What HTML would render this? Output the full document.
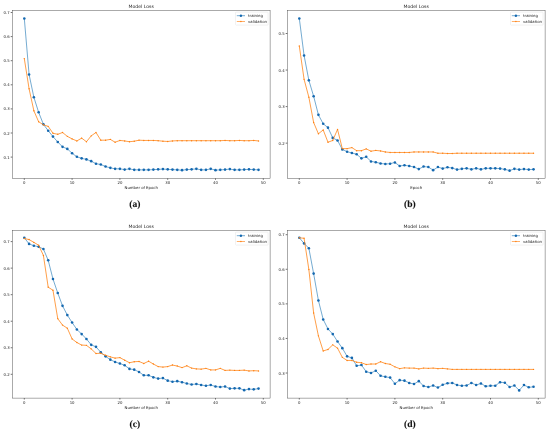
<!DOCTYPE html>
<html><head><meta charset="utf-8"><title>Model Loss</title>
<style>
html,body{margin:0;padding:0;background:#fff;}
body{width:550px;height:430px;overflow:hidden;}
.cap{font-family:"Liberation Serif","DejaVu Serif",serif;font-weight:bold;font-size:9.5px;fill:#111;stroke:#111 !important;stroke-width:0.12px !important;}
svg text{stroke:none;text-rendering:geometricPrecision;}
svg{display:block;font-family:"DejaVu Sans","Liberation Sans",sans-serif;}
</style></head><body>
<svg width="550" height="430" viewBox="0 0 550 430">
<rect width="550" height="430" fill="#fff"/>
<rect x="12.30" y="10.50" width="257.80" height="167.90" fill="#fff" stroke="#444" stroke-width="0.45"/>
<text x="141.20" y="8.00" font-size="4.6" text-anchor="middle" fill="#1a1a1a">Model Loss</text>
<line x1="24.30" y1="178.40" x2="24.30" y2="179.80" stroke="#333" stroke-width="0.7"/>
<text x="24.30" y="183.90" font-size="3.85" text-anchor="middle" fill="#1a1a1a">0</text>
<line x1="72.10" y1="178.40" x2="72.10" y2="179.80" stroke="#333" stroke-width="0.7"/>
<text x="72.10" y="183.90" font-size="3.85" text-anchor="middle" fill="#1a1a1a">10</text>
<line x1="119.90" y1="178.40" x2="119.90" y2="179.80" stroke="#333" stroke-width="0.7"/>
<text x="119.90" y="183.90" font-size="3.85" text-anchor="middle" fill="#1a1a1a">20</text>
<line x1="167.70" y1="178.40" x2="167.70" y2="179.80" stroke="#333" stroke-width="0.7"/>
<text x="167.70" y="183.90" font-size="3.85" text-anchor="middle" fill="#1a1a1a">30</text>
<line x1="215.50" y1="178.40" x2="215.50" y2="179.80" stroke="#333" stroke-width="0.7"/>
<text x="215.50" y="183.90" font-size="3.85" text-anchor="middle" fill="#1a1a1a">40</text>
<line x1="263.30" y1="178.40" x2="263.30" y2="179.80" stroke="#333" stroke-width="0.7"/>
<text x="263.30" y="183.90" font-size="3.85" text-anchor="middle" fill="#1a1a1a">50</text>
<line x1="10.70" y1="157.10" x2="12.30" y2="157.10" stroke="#333" stroke-width="0.7"/>
<text x="9.70" y="158.60" font-size="3.85" text-anchor="end" fill="#1a1a1a">0.1</text>
<line x1="10.70" y1="133.00" x2="12.30" y2="133.00" stroke="#333" stroke-width="0.7"/>
<text x="9.70" y="134.50" font-size="3.85" text-anchor="end" fill="#1a1a1a">0.2</text>
<line x1="10.70" y1="108.90" x2="12.30" y2="108.90" stroke="#333" stroke-width="0.7"/>
<text x="9.70" y="110.40" font-size="3.85" text-anchor="end" fill="#1a1a1a">0.3</text>
<line x1="10.70" y1="84.80" x2="12.30" y2="84.80" stroke="#333" stroke-width="0.7"/>
<text x="9.70" y="86.30" font-size="3.85" text-anchor="end" fill="#1a1a1a">0.4</text>
<line x1="10.70" y1="60.70" x2="12.30" y2="60.70" stroke="#333" stroke-width="0.7"/>
<text x="9.70" y="62.20" font-size="3.85" text-anchor="end" fill="#1a1a1a">0.5</text>
<line x1="10.70" y1="36.60" x2="12.30" y2="36.60" stroke="#333" stroke-width="0.7"/>
<text x="9.70" y="38.10" font-size="3.85" text-anchor="end" fill="#1a1a1a">0.6</text>
<line x1="10.70" y1="12.50" x2="12.30" y2="12.50" stroke="#333" stroke-width="0.7"/>
<text x="9.70" y="14.00" font-size="3.85" text-anchor="end" fill="#1a1a1a">0.7</text>
<text x="141.20" y="189.00" font-size="3.85" text-anchor="middle" fill="#1a1a1a">Number of Epoch</text>
<polyline points="24.30,18.43 29.08,74.48 33.86,97.26 38.64,112.29 43.42,124.32 48.20,130.71 52.98,136.60 57.76,141.98 62.54,146.84 67.32,148.89 72.10,153.24 76.88,156.82 81.66,158.36 86.44,159.38 91.22,161.17 96.00,163.73 100.78,164.50 105.56,166.55 110.34,167.83 115.12,168.85 119.90,168.85 124.68,169.62 129.46,168.85 134.24,169.87 139.02,169.87 143.80,169.87 148.58,169.87 153.36,169.62 158.14,169.36 162.92,169.11 167.70,169.36 172.48,169.62 177.26,169.87 182.04,170.13 186.82,169.62 191.60,169.36 196.38,168.85 201.16,169.87 205.94,169.87 210.72,168.85 215.50,170.13 220.28,169.87 225.06,169.62 229.84,169.11 234.62,169.87 239.40,169.87 244.18,169.62 248.96,169.36 253.74,169.62 258.52,169.87" fill="none" stroke="#1f77b4" stroke-width="0.62" stroke-linejoin="round"/>
<circle cx="24.30" cy="18.43" r="1.3" fill="#1468b0"/>
<circle cx="29.08" cy="74.48" r="1.3" fill="#1468b0"/>
<circle cx="33.86" cy="97.26" r="1.3" fill="#1468b0"/>
<circle cx="38.64" cy="112.29" r="1.3" fill="#1468b0"/>
<circle cx="43.42" cy="124.32" r="1.3" fill="#1468b0"/>
<circle cx="48.20" cy="130.71" r="1.3" fill="#1468b0"/>
<circle cx="52.98" cy="136.60" r="1.3" fill="#1468b0"/>
<circle cx="57.76" cy="141.98" r="1.3" fill="#1468b0"/>
<circle cx="62.54" cy="146.84" r="1.3" fill="#1468b0"/>
<circle cx="67.32" cy="148.89" r="1.3" fill="#1468b0"/>
<circle cx="72.10" cy="153.24" r="1.3" fill="#1468b0"/>
<circle cx="76.88" cy="156.82" r="1.3" fill="#1468b0"/>
<circle cx="81.66" cy="158.36" r="1.3" fill="#1468b0"/>
<circle cx="86.44" cy="159.38" r="1.3" fill="#1468b0"/>
<circle cx="91.22" cy="161.17" r="1.3" fill="#1468b0"/>
<circle cx="96.00" cy="163.73" r="1.3" fill="#1468b0"/>
<circle cx="100.78" cy="164.50" r="1.3" fill="#1468b0"/>
<circle cx="105.56" cy="166.55" r="1.3" fill="#1468b0"/>
<circle cx="110.34" cy="167.83" r="1.3" fill="#1468b0"/>
<circle cx="115.12" cy="168.85" r="1.3" fill="#1468b0"/>
<circle cx="119.90" cy="168.85" r="1.3" fill="#1468b0"/>
<circle cx="124.68" cy="169.62" r="1.3" fill="#1468b0"/>
<circle cx="129.46" cy="168.85" r="1.3" fill="#1468b0"/>
<circle cx="134.24" cy="169.87" r="1.3" fill="#1468b0"/>
<circle cx="139.02" cy="169.87" r="1.3" fill="#1468b0"/>
<circle cx="143.80" cy="169.87" r="1.3" fill="#1468b0"/>
<circle cx="148.58" cy="169.87" r="1.3" fill="#1468b0"/>
<circle cx="153.36" cy="169.62" r="1.3" fill="#1468b0"/>
<circle cx="158.14" cy="169.36" r="1.3" fill="#1468b0"/>
<circle cx="162.92" cy="169.11" r="1.3" fill="#1468b0"/>
<circle cx="167.70" cy="169.36" r="1.3" fill="#1468b0"/>
<circle cx="172.48" cy="169.62" r="1.3" fill="#1468b0"/>
<circle cx="177.26" cy="169.87" r="1.3" fill="#1468b0"/>
<circle cx="182.04" cy="170.13" r="1.3" fill="#1468b0"/>
<circle cx="186.82" cy="169.62" r="1.3" fill="#1468b0"/>
<circle cx="191.60" cy="169.36" r="1.3" fill="#1468b0"/>
<circle cx="196.38" cy="168.85" r="1.3" fill="#1468b0"/>
<circle cx="201.16" cy="169.87" r="1.3" fill="#1468b0"/>
<circle cx="205.94" cy="169.87" r="1.3" fill="#1468b0"/>
<circle cx="210.72" cy="168.85" r="1.3" fill="#1468b0"/>
<circle cx="215.50" cy="170.13" r="1.3" fill="#1468b0"/>
<circle cx="220.28" cy="169.87" r="1.3" fill="#1468b0"/>
<circle cx="225.06" cy="169.62" r="1.3" fill="#1468b0"/>
<circle cx="229.84" cy="169.11" r="1.3" fill="#1468b0"/>
<circle cx="234.62" cy="169.87" r="1.3" fill="#1468b0"/>
<circle cx="239.40" cy="169.87" r="1.3" fill="#1468b0"/>
<circle cx="244.18" cy="169.62" r="1.3" fill="#1468b0"/>
<circle cx="248.96" cy="169.36" r="1.3" fill="#1468b0"/>
<circle cx="253.74" cy="169.62" r="1.3" fill="#1468b0"/>
<circle cx="258.52" cy="169.87" r="1.3" fill="#1468b0"/>
<polyline points="24.30,58.61 29.08,88.81 33.86,110.75 38.64,121.76 43.42,124.83 48.20,126.36 52.98,133.27 57.76,134.30 62.54,132.51 67.32,136.35 72.10,138.90 76.88,140.95 81.66,138.14 86.44,141.72 91.22,135.83 96.00,132.51 100.78,140.18 105.56,140.18 110.34,139.42 115.12,142.23 119.90,140.44 124.68,140.95 129.46,141.72 134.24,141.21 139.02,140.18 143.80,140.44 148.58,140.44 153.36,140.44 158.14,140.70 162.92,141.21 167.70,141.46 172.48,140.95 177.26,140.70 182.04,140.70 186.82,140.70 191.60,140.70 196.38,140.70 201.16,140.70 205.94,140.70 210.72,140.70 215.50,140.70 220.28,140.70 225.06,140.44 229.84,140.70 234.62,140.70 239.40,140.44 244.18,140.70 248.96,140.70 253.74,140.44 258.52,140.95" fill="none" stroke="#ff7f0e" stroke-width="0.75" stroke-linejoin="round"/>
<circle cx="24.30" cy="58.61" r="0.7" fill="#ff7f0e"/>
<circle cx="29.08" cy="88.81" r="0.7" fill="#ff7f0e"/>
<circle cx="33.86" cy="110.75" r="0.7" fill="#ff7f0e"/>
<circle cx="38.64" cy="121.76" r="0.7" fill="#ff7f0e"/>
<circle cx="43.42" cy="124.83" r="0.7" fill="#ff7f0e"/>
<circle cx="48.20" cy="126.36" r="0.7" fill="#ff7f0e"/>
<circle cx="52.98" cy="133.27" r="0.7" fill="#ff7f0e"/>
<circle cx="57.76" cy="134.30" r="0.7" fill="#ff7f0e"/>
<circle cx="62.54" cy="132.51" r="0.7" fill="#ff7f0e"/>
<circle cx="67.32" cy="136.35" r="0.7" fill="#ff7f0e"/>
<circle cx="72.10" cy="138.90" r="0.7" fill="#ff7f0e"/>
<circle cx="76.88" cy="140.95" r="0.7" fill="#ff7f0e"/>
<circle cx="81.66" cy="138.14" r="0.7" fill="#ff7f0e"/>
<circle cx="86.44" cy="141.72" r="0.7" fill="#ff7f0e"/>
<circle cx="91.22" cy="135.83" r="0.7" fill="#ff7f0e"/>
<circle cx="96.00" cy="132.51" r="0.7" fill="#ff7f0e"/>
<circle cx="100.78" cy="140.18" r="0.7" fill="#ff7f0e"/>
<circle cx="105.56" cy="140.18" r="0.7" fill="#ff7f0e"/>
<circle cx="110.34" cy="139.42" r="0.7" fill="#ff7f0e"/>
<circle cx="115.12" cy="142.23" r="0.7" fill="#ff7f0e"/>
<circle cx="119.90" cy="140.44" r="0.7" fill="#ff7f0e"/>
<circle cx="124.68" cy="140.95" r="0.7" fill="#ff7f0e"/>
<circle cx="129.46" cy="141.72" r="0.7" fill="#ff7f0e"/>
<circle cx="134.24" cy="141.21" r="0.7" fill="#ff7f0e"/>
<circle cx="139.02" cy="140.18" r="0.7" fill="#ff7f0e"/>
<circle cx="143.80" cy="140.44" r="0.7" fill="#ff7f0e"/>
<circle cx="148.58" cy="140.44" r="0.7" fill="#ff7f0e"/>
<circle cx="153.36" cy="140.44" r="0.7" fill="#ff7f0e"/>
<circle cx="158.14" cy="140.70" r="0.7" fill="#ff7f0e"/>
<circle cx="162.92" cy="141.21" r="0.7" fill="#ff7f0e"/>
<circle cx="167.70" cy="141.46" r="0.7" fill="#ff7f0e"/>
<circle cx="172.48" cy="140.95" r="0.7" fill="#ff7f0e"/>
<circle cx="177.26" cy="140.70" r="0.7" fill="#ff7f0e"/>
<circle cx="182.04" cy="140.70" r="0.7" fill="#ff7f0e"/>
<circle cx="186.82" cy="140.70" r="0.7" fill="#ff7f0e"/>
<circle cx="191.60" cy="140.70" r="0.7" fill="#ff7f0e"/>
<circle cx="196.38" cy="140.70" r="0.7" fill="#ff7f0e"/>
<circle cx="201.16" cy="140.70" r="0.7" fill="#ff7f0e"/>
<circle cx="205.94" cy="140.70" r="0.7" fill="#ff7f0e"/>
<circle cx="210.72" cy="140.70" r="0.7" fill="#ff7f0e"/>
<circle cx="215.50" cy="140.70" r="0.7" fill="#ff7f0e"/>
<circle cx="220.28" cy="140.70" r="0.7" fill="#ff7f0e"/>
<circle cx="225.06" cy="140.44" r="0.7" fill="#ff7f0e"/>
<circle cx="229.84" cy="140.70" r="0.7" fill="#ff7f0e"/>
<circle cx="234.62" cy="140.70" r="0.7" fill="#ff7f0e"/>
<circle cx="239.40" cy="140.44" r="0.7" fill="#ff7f0e"/>
<circle cx="244.18" cy="140.70" r="0.7" fill="#ff7f0e"/>
<circle cx="248.96" cy="140.70" r="0.7" fill="#ff7f0e"/>
<circle cx="253.74" cy="140.44" r="0.7" fill="#ff7f0e"/>
<circle cx="258.52" cy="140.95" r="0.7" fill="#ff7f0e"/>
<rect x="235.50" y="12.10" width="32.6" height="13" rx="0.8" fill="#fff" stroke="#ddd" stroke-width="0.4"/>
<line x1="236.80" y1="15.70" x2="245.00" y2="15.70" stroke="#1f77b4" stroke-width="0.62"/>
<circle cx="240.90" cy="15.70" r="1.2" fill="#1468b0"/>
<line x1="236.80" y1="21.50" x2="245.00" y2="21.50" stroke="#ff7f0e" stroke-width="0.62"/>
<circle cx="240.90" cy="21.50" r="0.7" fill="#ff7f0e"/>
<text x="248.10" y="17.20" font-size="3.85" fill="#1a1a1a">training</text>
<text x="248.10" y="23.00" font-size="3.85" fill="#1a1a1a">validation</text>
<text x="134.80" y="206.60" class="cap" text-anchor="middle">(a)</text>
<rect x="287.30" y="10.50" width="257.80" height="167.90" fill="#fff" stroke="#444" stroke-width="0.45"/>
<text x="416.20" y="8.00" font-size="4.6" text-anchor="middle" fill="#1a1a1a">Model Loss</text>
<line x1="299.30" y1="178.40" x2="299.30" y2="179.80" stroke="#333" stroke-width="0.7"/>
<text x="299.30" y="183.90" font-size="3.85" text-anchor="middle" fill="#1a1a1a">0</text>
<line x1="347.10" y1="178.40" x2="347.10" y2="179.80" stroke="#333" stroke-width="0.7"/>
<text x="347.10" y="183.90" font-size="3.85" text-anchor="middle" fill="#1a1a1a">10</text>
<line x1="394.90" y1="178.40" x2="394.90" y2="179.80" stroke="#333" stroke-width="0.7"/>
<text x="394.90" y="183.90" font-size="3.85" text-anchor="middle" fill="#1a1a1a">20</text>
<line x1="442.70" y1="178.40" x2="442.70" y2="179.80" stroke="#333" stroke-width="0.7"/>
<text x="442.70" y="183.90" font-size="3.85" text-anchor="middle" fill="#1a1a1a">30</text>
<line x1="490.50" y1="178.40" x2="490.50" y2="179.80" stroke="#333" stroke-width="0.7"/>
<text x="490.50" y="183.90" font-size="3.85" text-anchor="middle" fill="#1a1a1a">40</text>
<line x1="538.30" y1="178.40" x2="538.30" y2="179.80" stroke="#333" stroke-width="0.7"/>
<text x="538.30" y="183.90" font-size="3.85" text-anchor="middle" fill="#1a1a1a">50</text>
<line x1="285.70" y1="143.15" x2="287.30" y2="143.15" stroke="#333" stroke-width="0.7"/>
<text x="284.70" y="144.65" font-size="3.85" text-anchor="end" fill="#1a1a1a">0.2</text>
<line x1="285.70" y1="106.60" x2="287.30" y2="106.60" stroke="#333" stroke-width="0.7"/>
<text x="284.70" y="108.10" font-size="3.85" text-anchor="end" fill="#1a1a1a">0.3</text>
<line x1="285.70" y1="70.05" x2="287.30" y2="70.05" stroke="#333" stroke-width="0.7"/>
<text x="284.70" y="71.55" font-size="3.85" text-anchor="end" fill="#1a1a1a">0.4</text>
<line x1="285.70" y1="33.50" x2="287.30" y2="33.50" stroke="#333" stroke-width="0.7"/>
<text x="284.70" y="35.00" font-size="3.85" text-anchor="end" fill="#1a1a1a">0.5</text>
<text x="416.20" y="189.00" font-size="3.85" text-anchor="middle" fill="#1a1a1a">Epoch</text>
<polyline points="299.30,18.43 304.08,55.54 308.86,80.37 313.64,96.24 318.42,114.85 323.20,123.80 327.98,127.64 332.76,137.88 337.54,140.44 342.32,149.40 347.10,151.70 351.88,152.98 356.66,154.26 361.44,158.36 366.22,156.82 371.00,161.43 375.78,162.20 380.56,163.48 385.34,163.99 390.12,163.73 394.90,162.45 399.68,166.04 404.46,165.27 409.24,166.04 414.02,167.06 418.80,169.11 423.58,166.55 428.36,167.06 433.14,170.13 437.92,167.06 442.70,168.59 447.48,167.32 452.26,168.08 457.04,169.62 461.82,168.85 466.60,168.34 471.38,169.36 476.16,168.34 480.94,169.36 485.72,168.34 490.50,168.34 495.28,168.34 500.06,168.59 504.84,169.36 509.62,170.64 514.40,168.85 519.18,169.62 523.96,169.11 528.74,169.62 533.52,169.36" fill="none" stroke="#1f77b4" stroke-width="0.62" stroke-linejoin="round"/>
<circle cx="299.30" cy="18.43" r="1.3" fill="#1468b0"/>
<circle cx="304.08" cy="55.54" r="1.3" fill="#1468b0"/>
<circle cx="308.86" cy="80.37" r="1.3" fill="#1468b0"/>
<circle cx="313.64" cy="96.24" r="1.3" fill="#1468b0"/>
<circle cx="318.42" cy="114.85" r="1.3" fill="#1468b0"/>
<circle cx="323.20" cy="123.80" r="1.3" fill="#1468b0"/>
<circle cx="327.98" cy="127.64" r="1.3" fill="#1468b0"/>
<circle cx="332.76" cy="137.88" r="1.3" fill="#1468b0"/>
<circle cx="337.54" cy="140.44" r="1.3" fill="#1468b0"/>
<circle cx="342.32" cy="149.40" r="1.3" fill="#1468b0"/>
<circle cx="347.10" cy="151.70" r="1.3" fill="#1468b0"/>
<circle cx="351.88" cy="152.98" r="1.3" fill="#1468b0"/>
<circle cx="356.66" cy="154.26" r="1.3" fill="#1468b0"/>
<circle cx="361.44" cy="158.36" r="1.3" fill="#1468b0"/>
<circle cx="366.22" cy="156.82" r="1.3" fill="#1468b0"/>
<circle cx="371.00" cy="161.43" r="1.3" fill="#1468b0"/>
<circle cx="375.78" cy="162.20" r="1.3" fill="#1468b0"/>
<circle cx="380.56" cy="163.48" r="1.3" fill="#1468b0"/>
<circle cx="385.34" cy="163.99" r="1.3" fill="#1468b0"/>
<circle cx="390.12" cy="163.73" r="1.3" fill="#1468b0"/>
<circle cx="394.90" cy="162.45" r="1.3" fill="#1468b0"/>
<circle cx="399.68" cy="166.04" r="1.3" fill="#1468b0"/>
<circle cx="404.46" cy="165.27" r="1.3" fill="#1468b0"/>
<circle cx="409.24" cy="166.04" r="1.3" fill="#1468b0"/>
<circle cx="414.02" cy="167.06" r="1.3" fill="#1468b0"/>
<circle cx="418.80" cy="169.11" r="1.3" fill="#1468b0"/>
<circle cx="423.58" cy="166.55" r="1.3" fill="#1468b0"/>
<circle cx="428.36" cy="167.06" r="1.3" fill="#1468b0"/>
<circle cx="433.14" cy="170.13" r="1.3" fill="#1468b0"/>
<circle cx="437.92" cy="167.06" r="1.3" fill="#1468b0"/>
<circle cx="442.70" cy="168.59" r="1.3" fill="#1468b0"/>
<circle cx="447.48" cy="167.32" r="1.3" fill="#1468b0"/>
<circle cx="452.26" cy="168.08" r="1.3" fill="#1468b0"/>
<circle cx="457.04" cy="169.62" r="1.3" fill="#1468b0"/>
<circle cx="461.82" cy="168.85" r="1.3" fill="#1468b0"/>
<circle cx="466.60" cy="168.34" r="1.3" fill="#1468b0"/>
<circle cx="471.38" cy="169.36" r="1.3" fill="#1468b0"/>
<circle cx="476.16" cy="168.34" r="1.3" fill="#1468b0"/>
<circle cx="480.94" cy="169.36" r="1.3" fill="#1468b0"/>
<circle cx="485.72" cy="168.34" r="1.3" fill="#1468b0"/>
<circle cx="490.50" cy="168.34" r="1.3" fill="#1468b0"/>
<circle cx="495.28" cy="168.34" r="1.3" fill="#1468b0"/>
<circle cx="500.06" cy="168.59" r="1.3" fill="#1468b0"/>
<circle cx="504.84" cy="169.36" r="1.3" fill="#1468b0"/>
<circle cx="509.62" cy="170.64" r="1.3" fill="#1468b0"/>
<circle cx="514.40" cy="168.85" r="1.3" fill="#1468b0"/>
<circle cx="519.18" cy="169.62" r="1.3" fill="#1468b0"/>
<circle cx="523.96" cy="169.11" r="1.3" fill="#1468b0"/>
<circle cx="528.74" cy="169.62" r="1.3" fill="#1468b0"/>
<circle cx="533.52" cy="169.36" r="1.3" fill="#1468b0"/>
<polyline points="299.30,46.07 304.08,79.34 308.86,97.26 313.64,122.52 318.42,133.79 323.20,129.95 327.98,142.23 332.76,140.44 337.54,129.43 342.32,148.63 347.10,148.63 351.88,147.61 356.66,150.68 361.44,150.68 366.22,148.89 371.00,151.19 375.78,150.42 380.56,150.93 385.34,151.96 390.12,152.47 394.90,152.47 399.68,152.47 404.46,152.47 409.24,152.47 414.02,151.96 418.80,151.96 423.58,151.96 428.36,151.96 433.14,151.96 437.92,153.24 442.70,153.24 447.48,153.49 452.26,153.49 457.04,153.24 461.82,153.24 466.60,153.24 471.38,153.24 476.16,153.24 480.94,153.24 485.72,153.24 490.50,153.24 495.28,153.24 500.06,153.24 504.84,153.24 509.62,153.24 514.40,153.24 519.18,153.24 523.96,153.24 528.74,153.24 533.52,153.24" fill="none" stroke="#ff7f0e" stroke-width="0.75" stroke-linejoin="round"/>
<circle cx="299.30" cy="46.07" r="0.7" fill="#ff7f0e"/>
<circle cx="304.08" cy="79.34" r="0.7" fill="#ff7f0e"/>
<circle cx="308.86" cy="97.26" r="0.7" fill="#ff7f0e"/>
<circle cx="313.64" cy="122.52" r="0.7" fill="#ff7f0e"/>
<circle cx="318.42" cy="133.79" r="0.7" fill="#ff7f0e"/>
<circle cx="323.20" cy="129.95" r="0.7" fill="#ff7f0e"/>
<circle cx="327.98" cy="142.23" r="0.7" fill="#ff7f0e"/>
<circle cx="332.76" cy="140.44" r="0.7" fill="#ff7f0e"/>
<circle cx="337.54" cy="129.43" r="0.7" fill="#ff7f0e"/>
<circle cx="342.32" cy="148.63" r="0.7" fill="#ff7f0e"/>
<circle cx="347.10" cy="148.63" r="0.7" fill="#ff7f0e"/>
<circle cx="351.88" cy="147.61" r="0.7" fill="#ff7f0e"/>
<circle cx="356.66" cy="150.68" r="0.7" fill="#ff7f0e"/>
<circle cx="361.44" cy="150.68" r="0.7" fill="#ff7f0e"/>
<circle cx="366.22" cy="148.89" r="0.7" fill="#ff7f0e"/>
<circle cx="371.00" cy="151.19" r="0.7" fill="#ff7f0e"/>
<circle cx="375.78" cy="150.42" r="0.7" fill="#ff7f0e"/>
<circle cx="380.56" cy="150.93" r="0.7" fill="#ff7f0e"/>
<circle cx="385.34" cy="151.96" r="0.7" fill="#ff7f0e"/>
<circle cx="390.12" cy="152.47" r="0.7" fill="#ff7f0e"/>
<circle cx="394.90" cy="152.47" r="0.7" fill="#ff7f0e"/>
<circle cx="399.68" cy="152.47" r="0.7" fill="#ff7f0e"/>
<circle cx="404.46" cy="152.47" r="0.7" fill="#ff7f0e"/>
<circle cx="409.24" cy="152.47" r="0.7" fill="#ff7f0e"/>
<circle cx="414.02" cy="151.96" r="0.7" fill="#ff7f0e"/>
<circle cx="418.80" cy="151.96" r="0.7" fill="#ff7f0e"/>
<circle cx="423.58" cy="151.96" r="0.7" fill="#ff7f0e"/>
<circle cx="428.36" cy="151.96" r="0.7" fill="#ff7f0e"/>
<circle cx="433.14" cy="151.96" r="0.7" fill="#ff7f0e"/>
<circle cx="437.92" cy="153.24" r="0.7" fill="#ff7f0e"/>
<circle cx="442.70" cy="153.24" r="0.7" fill="#ff7f0e"/>
<circle cx="447.48" cy="153.49" r="0.7" fill="#ff7f0e"/>
<circle cx="452.26" cy="153.49" r="0.7" fill="#ff7f0e"/>
<circle cx="457.04" cy="153.24" r="0.7" fill="#ff7f0e"/>
<circle cx="461.82" cy="153.24" r="0.7" fill="#ff7f0e"/>
<circle cx="466.60" cy="153.24" r="0.7" fill="#ff7f0e"/>
<circle cx="471.38" cy="153.24" r="0.7" fill="#ff7f0e"/>
<circle cx="476.16" cy="153.24" r="0.7" fill="#ff7f0e"/>
<circle cx="480.94" cy="153.24" r="0.7" fill="#ff7f0e"/>
<circle cx="485.72" cy="153.24" r="0.7" fill="#ff7f0e"/>
<circle cx="490.50" cy="153.24" r="0.7" fill="#ff7f0e"/>
<circle cx="495.28" cy="153.24" r="0.7" fill="#ff7f0e"/>
<circle cx="500.06" cy="153.24" r="0.7" fill="#ff7f0e"/>
<circle cx="504.84" cy="153.24" r="0.7" fill="#ff7f0e"/>
<circle cx="509.62" cy="153.24" r="0.7" fill="#ff7f0e"/>
<circle cx="514.40" cy="153.24" r="0.7" fill="#ff7f0e"/>
<circle cx="519.18" cy="153.24" r="0.7" fill="#ff7f0e"/>
<circle cx="523.96" cy="153.24" r="0.7" fill="#ff7f0e"/>
<circle cx="528.74" cy="153.24" r="0.7" fill="#ff7f0e"/>
<circle cx="533.52" cy="153.24" r="0.7" fill="#ff7f0e"/>
<rect x="510.50" y="12.10" width="32.6" height="13" rx="0.8" fill="#fff" stroke="#ddd" stroke-width="0.4"/>
<line x1="511.80" y1="15.70" x2="520.00" y2="15.70" stroke="#1f77b4" stroke-width="0.62"/>
<circle cx="515.90" cy="15.70" r="1.2" fill="#1468b0"/>
<line x1="511.80" y1="21.50" x2="520.00" y2="21.50" stroke="#ff7f0e" stroke-width="0.62"/>
<circle cx="515.90" cy="21.50" r="0.7" fill="#ff7f0e"/>
<text x="523.10" y="17.20" font-size="3.85" fill="#1a1a1a">training</text>
<text x="523.10" y="23.00" font-size="3.85" fill="#1a1a1a">validation</text>
<text x="409.80" y="206.60" class="cap" text-anchor="middle">(b)</text>
<rect x="12.30" y="230.50" width="257.80" height="167.60" fill="#fff" stroke="#444" stroke-width="0.45"/>
<text x="141.20" y="228.00" font-size="4.6" text-anchor="middle" fill="#1a1a1a">Model Loss</text>
<line x1="24.30" y1="398.10" x2="24.30" y2="399.50" stroke="#333" stroke-width="0.7"/>
<text x="24.30" y="403.60" font-size="3.85" text-anchor="middle" fill="#1a1a1a">0</text>
<line x1="72.10" y1="398.10" x2="72.10" y2="399.50" stroke="#333" stroke-width="0.7"/>
<text x="72.10" y="403.60" font-size="3.85" text-anchor="middle" fill="#1a1a1a">10</text>
<line x1="119.90" y1="398.10" x2="119.90" y2="399.50" stroke="#333" stroke-width="0.7"/>
<text x="119.90" y="403.60" font-size="3.85" text-anchor="middle" fill="#1a1a1a">20</text>
<line x1="167.70" y1="398.10" x2="167.70" y2="399.50" stroke="#333" stroke-width="0.7"/>
<text x="167.70" y="403.60" font-size="3.85" text-anchor="middle" fill="#1a1a1a">30</text>
<line x1="215.50" y1="398.10" x2="215.50" y2="399.50" stroke="#333" stroke-width="0.7"/>
<text x="215.50" y="403.60" font-size="3.85" text-anchor="middle" fill="#1a1a1a">40</text>
<line x1="263.30" y1="398.10" x2="263.30" y2="399.50" stroke="#333" stroke-width="0.7"/>
<text x="263.30" y="403.60" font-size="3.85" text-anchor="middle" fill="#1a1a1a">50</text>
<line x1="10.70" y1="374.30" x2="12.30" y2="374.30" stroke="#333" stroke-width="0.7"/>
<text x="9.70" y="375.80" font-size="3.85" text-anchor="end" fill="#1a1a1a">0.2</text>
<line x1="10.70" y1="347.76" x2="12.30" y2="347.76" stroke="#333" stroke-width="0.7"/>
<text x="9.70" y="349.26" font-size="3.85" text-anchor="end" fill="#1a1a1a">0.3</text>
<line x1="10.70" y1="321.22" x2="12.30" y2="321.22" stroke="#333" stroke-width="0.7"/>
<text x="9.70" y="322.72" font-size="3.85" text-anchor="end" fill="#1a1a1a">0.4</text>
<line x1="10.70" y1="294.68" x2="12.30" y2="294.68" stroke="#333" stroke-width="0.7"/>
<text x="9.70" y="296.18" font-size="3.85" text-anchor="end" fill="#1a1a1a">0.5</text>
<line x1="10.70" y1="268.14" x2="12.30" y2="268.14" stroke="#333" stroke-width="0.7"/>
<text x="9.70" y="269.64" font-size="3.85" text-anchor="end" fill="#1a1a1a">0.6</text>
<line x1="10.70" y1="241.60" x2="12.30" y2="241.60" stroke="#333" stroke-width="0.7"/>
<text x="9.70" y="243.10" font-size="3.85" text-anchor="end" fill="#1a1a1a">0.7</text>
<text x="141.20" y="408.70" font-size="3.85" text-anchor="middle" fill="#1a1a1a">Number of Epoch</text>
<polyline points="24.30,237.78 29.08,243.92 33.86,245.71 38.64,246.74 43.42,249.04 48.20,260.30 52.98,278.99 57.76,293.07 62.54,305.86 67.32,315.08 72.10,322.56 76.88,329.47 81.66,334.08 86.44,338.94 91.22,344.83 96.00,346.87 100.78,352.25 105.56,356.35 110.34,359.67 115.12,361.98 119.90,363.51 124.68,365.30 129.46,368.89 134.24,369.65 139.02,371.96 143.80,375.29 148.58,375.29 153.36,377.33 158.14,378.61 162.92,378.10 167.70,380.66 172.48,381.68 177.26,381.17 182.04,382.20 186.82,383.48 191.60,384.50 196.38,383.99 201.16,385.01 205.94,385.78 210.72,385.01 215.50,386.55 220.28,387.06 225.06,386.55 229.84,388.59 234.62,388.34 239.40,388.34 244.18,390.13 248.96,389.11 253.74,389.36 258.52,388.59" fill="none" stroke="#1f77b4" stroke-width="0.62" stroke-linejoin="round"/>
<circle cx="24.30" cy="237.78" r="1.3" fill="#1468b0"/>
<circle cx="29.08" cy="243.92" r="1.3" fill="#1468b0"/>
<circle cx="33.86" cy="245.71" r="1.3" fill="#1468b0"/>
<circle cx="38.64" cy="246.74" r="1.3" fill="#1468b0"/>
<circle cx="43.42" cy="249.04" r="1.3" fill="#1468b0"/>
<circle cx="48.20" cy="260.30" r="1.3" fill="#1468b0"/>
<circle cx="52.98" cy="278.99" r="1.3" fill="#1468b0"/>
<circle cx="57.76" cy="293.07" r="1.3" fill="#1468b0"/>
<circle cx="62.54" cy="305.86" r="1.3" fill="#1468b0"/>
<circle cx="67.32" cy="315.08" r="1.3" fill="#1468b0"/>
<circle cx="72.10" cy="322.56" r="1.3" fill="#1468b0"/>
<circle cx="76.88" cy="329.47" r="1.3" fill="#1468b0"/>
<circle cx="81.66" cy="334.08" r="1.3" fill="#1468b0"/>
<circle cx="86.44" cy="338.94" r="1.3" fill="#1468b0"/>
<circle cx="91.22" cy="344.83" r="1.3" fill="#1468b0"/>
<circle cx="96.00" cy="346.87" r="1.3" fill="#1468b0"/>
<circle cx="100.78" cy="352.25" r="1.3" fill="#1468b0"/>
<circle cx="105.56" cy="356.35" r="1.3" fill="#1468b0"/>
<circle cx="110.34" cy="359.67" r="1.3" fill="#1468b0"/>
<circle cx="115.12" cy="361.98" r="1.3" fill="#1468b0"/>
<circle cx="119.90" cy="363.51" r="1.3" fill="#1468b0"/>
<circle cx="124.68" cy="365.30" r="1.3" fill="#1468b0"/>
<circle cx="129.46" cy="368.89" r="1.3" fill="#1468b0"/>
<circle cx="134.24" cy="369.65" r="1.3" fill="#1468b0"/>
<circle cx="139.02" cy="371.96" r="1.3" fill="#1468b0"/>
<circle cx="143.80" cy="375.29" r="1.3" fill="#1468b0"/>
<circle cx="148.58" cy="375.29" r="1.3" fill="#1468b0"/>
<circle cx="153.36" cy="377.33" r="1.3" fill="#1468b0"/>
<circle cx="158.14" cy="378.61" r="1.3" fill="#1468b0"/>
<circle cx="162.92" cy="378.10" r="1.3" fill="#1468b0"/>
<circle cx="167.70" cy="380.66" r="1.3" fill="#1468b0"/>
<circle cx="172.48" cy="381.68" r="1.3" fill="#1468b0"/>
<circle cx="177.26" cy="381.17" r="1.3" fill="#1468b0"/>
<circle cx="182.04" cy="382.20" r="1.3" fill="#1468b0"/>
<circle cx="186.82" cy="383.48" r="1.3" fill="#1468b0"/>
<circle cx="191.60" cy="384.50" r="1.3" fill="#1468b0"/>
<circle cx="196.38" cy="383.99" r="1.3" fill="#1468b0"/>
<circle cx="201.16" cy="385.01" r="1.3" fill="#1468b0"/>
<circle cx="205.94" cy="385.78" r="1.3" fill="#1468b0"/>
<circle cx="210.72" cy="385.01" r="1.3" fill="#1468b0"/>
<circle cx="215.50" cy="386.55" r="1.3" fill="#1468b0"/>
<circle cx="220.28" cy="387.06" r="1.3" fill="#1468b0"/>
<circle cx="225.06" cy="386.55" r="1.3" fill="#1468b0"/>
<circle cx="229.84" cy="388.59" r="1.3" fill="#1468b0"/>
<circle cx="234.62" cy="388.34" r="1.3" fill="#1468b0"/>
<circle cx="239.40" cy="388.34" r="1.3" fill="#1468b0"/>
<circle cx="244.18" cy="390.13" r="1.3" fill="#1468b0"/>
<circle cx="248.96" cy="389.11" r="1.3" fill="#1468b0"/>
<circle cx="253.74" cy="389.36" r="1.3" fill="#1468b0"/>
<circle cx="258.52" cy="388.59" r="1.3" fill="#1468b0"/>
<polyline points="24.30,238.55 29.08,239.57 33.86,242.39 38.64,245.20 43.42,255.44 48.20,287.18 52.98,290.25 57.76,318.66 62.54,325.12 67.32,328.19 72.10,338.94 76.88,342.52 81.66,345.08 86.44,345.34 91.22,348.92 96.00,353.53 100.78,353.27 105.56,355.32 110.34,356.86 115.12,358.14 119.90,357.62 124.68,360.18 129.46,362.74 134.24,361.72 139.02,361.46 143.80,363.51 148.58,361.21 153.36,364.02 158.14,366.58 162.92,367.09 167.70,366.58 172.48,365.05 177.26,366.07 182.04,367.61 186.82,365.82 191.60,368.12 196.38,368.89 201.16,369.14 205.94,368.37 210.72,369.91 215.50,369.91 220.28,368.37 225.06,370.42 229.84,370.17 234.62,370.42 239.40,370.42 244.18,370.17 248.96,370.93 253.74,370.68 258.52,370.93" fill="none" stroke="#ff7f0e" stroke-width="0.75" stroke-linejoin="round"/>
<circle cx="24.30" cy="238.55" r="0.7" fill="#ff7f0e"/>
<circle cx="29.08" cy="239.57" r="0.7" fill="#ff7f0e"/>
<circle cx="33.86" cy="242.39" r="0.7" fill="#ff7f0e"/>
<circle cx="38.64" cy="245.20" r="0.7" fill="#ff7f0e"/>
<circle cx="43.42" cy="255.44" r="0.7" fill="#ff7f0e"/>
<circle cx="48.20" cy="287.18" r="0.7" fill="#ff7f0e"/>
<circle cx="52.98" cy="290.25" r="0.7" fill="#ff7f0e"/>
<circle cx="57.76" cy="318.66" r="0.7" fill="#ff7f0e"/>
<circle cx="62.54" cy="325.12" r="0.7" fill="#ff7f0e"/>
<circle cx="67.32" cy="328.19" r="0.7" fill="#ff7f0e"/>
<circle cx="72.10" cy="338.94" r="0.7" fill="#ff7f0e"/>
<circle cx="76.88" cy="342.52" r="0.7" fill="#ff7f0e"/>
<circle cx="81.66" cy="345.08" r="0.7" fill="#ff7f0e"/>
<circle cx="86.44" cy="345.34" r="0.7" fill="#ff7f0e"/>
<circle cx="91.22" cy="348.92" r="0.7" fill="#ff7f0e"/>
<circle cx="96.00" cy="353.53" r="0.7" fill="#ff7f0e"/>
<circle cx="100.78" cy="353.27" r="0.7" fill="#ff7f0e"/>
<circle cx="105.56" cy="355.32" r="0.7" fill="#ff7f0e"/>
<circle cx="110.34" cy="356.86" r="0.7" fill="#ff7f0e"/>
<circle cx="115.12" cy="358.14" r="0.7" fill="#ff7f0e"/>
<circle cx="119.90" cy="357.62" r="0.7" fill="#ff7f0e"/>
<circle cx="124.68" cy="360.18" r="0.7" fill="#ff7f0e"/>
<circle cx="129.46" cy="362.74" r="0.7" fill="#ff7f0e"/>
<circle cx="134.24" cy="361.72" r="0.7" fill="#ff7f0e"/>
<circle cx="139.02" cy="361.46" r="0.7" fill="#ff7f0e"/>
<circle cx="143.80" cy="363.51" r="0.7" fill="#ff7f0e"/>
<circle cx="148.58" cy="361.21" r="0.7" fill="#ff7f0e"/>
<circle cx="153.36" cy="364.02" r="0.7" fill="#ff7f0e"/>
<circle cx="158.14" cy="366.58" r="0.7" fill="#ff7f0e"/>
<circle cx="162.92" cy="367.09" r="0.7" fill="#ff7f0e"/>
<circle cx="167.70" cy="366.58" r="0.7" fill="#ff7f0e"/>
<circle cx="172.48" cy="365.05" r="0.7" fill="#ff7f0e"/>
<circle cx="177.26" cy="366.07" r="0.7" fill="#ff7f0e"/>
<circle cx="182.04" cy="367.61" r="0.7" fill="#ff7f0e"/>
<circle cx="186.82" cy="365.82" r="0.7" fill="#ff7f0e"/>
<circle cx="191.60" cy="368.12" r="0.7" fill="#ff7f0e"/>
<circle cx="196.38" cy="368.89" r="0.7" fill="#ff7f0e"/>
<circle cx="201.16" cy="369.14" r="0.7" fill="#ff7f0e"/>
<circle cx="205.94" cy="368.37" r="0.7" fill="#ff7f0e"/>
<circle cx="210.72" cy="369.91" r="0.7" fill="#ff7f0e"/>
<circle cx="215.50" cy="369.91" r="0.7" fill="#ff7f0e"/>
<circle cx="220.28" cy="368.37" r="0.7" fill="#ff7f0e"/>
<circle cx="225.06" cy="370.42" r="0.7" fill="#ff7f0e"/>
<circle cx="229.84" cy="370.17" r="0.7" fill="#ff7f0e"/>
<circle cx="234.62" cy="370.42" r="0.7" fill="#ff7f0e"/>
<circle cx="239.40" cy="370.42" r="0.7" fill="#ff7f0e"/>
<circle cx="244.18" cy="370.17" r="0.7" fill="#ff7f0e"/>
<circle cx="248.96" cy="370.93" r="0.7" fill="#ff7f0e"/>
<circle cx="253.74" cy="370.68" r="0.7" fill="#ff7f0e"/>
<circle cx="258.52" cy="370.93" r="0.7" fill="#ff7f0e"/>
<rect x="235.50" y="232.10" width="32.6" height="13" rx="0.8" fill="#fff" stroke="#ddd" stroke-width="0.4"/>
<line x1="236.80" y1="235.70" x2="245.00" y2="235.70" stroke="#1f77b4" stroke-width="0.62"/>
<circle cx="240.90" cy="235.70" r="1.2" fill="#1468b0"/>
<line x1="236.80" y1="241.50" x2="245.00" y2="241.50" stroke="#ff7f0e" stroke-width="0.62"/>
<circle cx="240.90" cy="241.50" r="0.7" fill="#ff7f0e"/>
<text x="248.10" y="237.20" font-size="3.85" fill="#1a1a1a">training</text>
<text x="248.10" y="243.00" font-size="3.85" fill="#1a1a1a">validation</text>
<text x="134.80" y="426.60" class="cap" text-anchor="middle">(c)</text>
<rect x="287.30" y="230.50" width="257.80" height="167.60" fill="#fff" stroke="#444" stroke-width="0.45"/>
<text x="416.20" y="228.00" font-size="4.6" text-anchor="middle" fill="#1a1a1a">Model Loss</text>
<line x1="299.30" y1="398.10" x2="299.30" y2="399.50" stroke="#333" stroke-width="0.7"/>
<text x="299.30" y="403.60" font-size="3.85" text-anchor="middle" fill="#1a1a1a">0</text>
<line x1="347.10" y1="398.10" x2="347.10" y2="399.50" stroke="#333" stroke-width="0.7"/>
<text x="347.10" y="403.60" font-size="3.85" text-anchor="middle" fill="#1a1a1a">10</text>
<line x1="394.90" y1="398.10" x2="394.90" y2="399.50" stroke="#333" stroke-width="0.7"/>
<text x="394.90" y="403.60" font-size="3.85" text-anchor="middle" fill="#1a1a1a">20</text>
<line x1="442.70" y1="398.10" x2="442.70" y2="399.50" stroke="#333" stroke-width="0.7"/>
<text x="442.70" y="403.60" font-size="3.85" text-anchor="middle" fill="#1a1a1a">30</text>
<line x1="490.50" y1="398.10" x2="490.50" y2="399.50" stroke="#333" stroke-width="0.7"/>
<text x="490.50" y="403.60" font-size="3.85" text-anchor="middle" fill="#1a1a1a">40</text>
<line x1="538.30" y1="398.10" x2="538.30" y2="399.50" stroke="#333" stroke-width="0.7"/>
<text x="538.30" y="403.60" font-size="3.85" text-anchor="middle" fill="#1a1a1a">50</text>
<line x1="285.70" y1="373.02" x2="287.30" y2="373.02" stroke="#333" stroke-width="0.7"/>
<text x="284.70" y="374.52" font-size="3.85" text-anchor="end" fill="#1a1a1a">0.3</text>
<line x1="285.70" y1="338.44" x2="287.30" y2="338.44" stroke="#333" stroke-width="0.7"/>
<text x="284.70" y="339.94" font-size="3.85" text-anchor="end" fill="#1a1a1a">0.4</text>
<line x1="285.70" y1="303.86" x2="287.30" y2="303.86" stroke="#333" stroke-width="0.7"/>
<text x="284.70" y="305.36" font-size="3.85" text-anchor="end" fill="#1a1a1a">0.5</text>
<line x1="285.70" y1="269.28" x2="287.30" y2="269.28" stroke="#333" stroke-width="0.7"/>
<text x="284.70" y="270.78" font-size="3.85" text-anchor="end" fill="#1a1a1a">0.6</text>
<line x1="285.70" y1="234.70" x2="287.30" y2="234.70" stroke="#333" stroke-width="0.7"/>
<text x="284.70" y="236.20" font-size="3.85" text-anchor="end" fill="#1a1a1a">0.7</text>
<text x="416.20" y="408.70" font-size="3.85" text-anchor="middle" fill="#1a1a1a">Number of Epoch</text>
<polyline points="299.30,237.78 304.08,243.41 308.86,248.27 313.64,273.61 318.42,300.49 323.20,319.43 327.98,328.96 332.76,334.08 337.54,341.50 342.32,348.15 347.10,356.35 351.88,357.88 356.66,365.82 361.44,365.05 366.22,371.70 371.00,372.98 375.78,370.68 380.56,375.80 385.34,376.82 390.12,377.59 394.90,383.73 399.68,380.15 404.46,380.66 409.24,382.96 414.02,383.99 418.80,381.17 423.58,386.04 428.36,387.06 433.14,385.52 437.92,387.57 442.70,384.76 447.48,383.22 452.26,382.96 457.04,385.01 461.82,385.78 466.60,385.52 471.38,382.96 476.16,385.01 480.94,383.48 485.72,386.29 490.50,385.78 495.28,385.78 500.06,382.20 504.84,382.71 509.62,387.06 514.40,385.52 519.18,390.39 523.96,385.01 528.74,387.32 533.52,386.80" fill="none" stroke="#1f77b4" stroke-width="0.62" stroke-linejoin="round"/>
<circle cx="299.30" cy="237.78" r="1.3" fill="#1468b0"/>
<circle cx="304.08" cy="243.41" r="1.3" fill="#1468b0"/>
<circle cx="308.86" cy="248.27" r="1.3" fill="#1468b0"/>
<circle cx="313.64" cy="273.61" r="1.3" fill="#1468b0"/>
<circle cx="318.42" cy="300.49" r="1.3" fill="#1468b0"/>
<circle cx="323.20" cy="319.43" r="1.3" fill="#1468b0"/>
<circle cx="327.98" cy="328.96" r="1.3" fill="#1468b0"/>
<circle cx="332.76" cy="334.08" r="1.3" fill="#1468b0"/>
<circle cx="337.54" cy="341.50" r="1.3" fill="#1468b0"/>
<circle cx="342.32" cy="348.15" r="1.3" fill="#1468b0"/>
<circle cx="347.10" cy="356.35" r="1.3" fill="#1468b0"/>
<circle cx="351.88" cy="357.88" r="1.3" fill="#1468b0"/>
<circle cx="356.66" cy="365.82" r="1.3" fill="#1468b0"/>
<circle cx="361.44" cy="365.05" r="1.3" fill="#1468b0"/>
<circle cx="366.22" cy="371.70" r="1.3" fill="#1468b0"/>
<circle cx="371.00" cy="372.98" r="1.3" fill="#1468b0"/>
<circle cx="375.78" cy="370.68" r="1.3" fill="#1468b0"/>
<circle cx="380.56" cy="375.80" r="1.3" fill="#1468b0"/>
<circle cx="385.34" cy="376.82" r="1.3" fill="#1468b0"/>
<circle cx="390.12" cy="377.59" r="1.3" fill="#1468b0"/>
<circle cx="394.90" cy="383.73" r="1.3" fill="#1468b0"/>
<circle cx="399.68" cy="380.15" r="1.3" fill="#1468b0"/>
<circle cx="404.46" cy="380.66" r="1.3" fill="#1468b0"/>
<circle cx="409.24" cy="382.96" r="1.3" fill="#1468b0"/>
<circle cx="414.02" cy="383.99" r="1.3" fill="#1468b0"/>
<circle cx="418.80" cy="381.17" r="1.3" fill="#1468b0"/>
<circle cx="423.58" cy="386.04" r="1.3" fill="#1468b0"/>
<circle cx="428.36" cy="387.06" r="1.3" fill="#1468b0"/>
<circle cx="433.14" cy="385.52" r="1.3" fill="#1468b0"/>
<circle cx="437.92" cy="387.57" r="1.3" fill="#1468b0"/>
<circle cx="442.70" cy="384.76" r="1.3" fill="#1468b0"/>
<circle cx="447.48" cy="383.22" r="1.3" fill="#1468b0"/>
<circle cx="452.26" cy="382.96" r="1.3" fill="#1468b0"/>
<circle cx="457.04" cy="385.01" r="1.3" fill="#1468b0"/>
<circle cx="461.82" cy="385.78" r="1.3" fill="#1468b0"/>
<circle cx="466.60" cy="385.52" r="1.3" fill="#1468b0"/>
<circle cx="471.38" cy="382.96" r="1.3" fill="#1468b0"/>
<circle cx="476.16" cy="385.01" r="1.3" fill="#1468b0"/>
<circle cx="480.94" cy="383.48" r="1.3" fill="#1468b0"/>
<circle cx="485.72" cy="386.29" r="1.3" fill="#1468b0"/>
<circle cx="490.50" cy="385.78" r="1.3" fill="#1468b0"/>
<circle cx="495.28" cy="385.78" r="1.3" fill="#1468b0"/>
<circle cx="500.06" cy="382.20" r="1.3" fill="#1468b0"/>
<circle cx="504.84" cy="382.71" r="1.3" fill="#1468b0"/>
<circle cx="509.62" cy="387.06" r="1.3" fill="#1468b0"/>
<circle cx="514.40" cy="385.52" r="1.3" fill="#1468b0"/>
<circle cx="519.18" cy="390.39" r="1.3" fill="#1468b0"/>
<circle cx="523.96" cy="385.01" r="1.3" fill="#1468b0"/>
<circle cx="528.74" cy="387.32" r="1.3" fill="#1468b0"/>
<circle cx="533.52" cy="386.80" r="1.3" fill="#1468b0"/>
<polyline points="299.30,237.78 304.08,238.29 308.86,269.52 313.64,313.03 318.42,335.87 323.20,350.97 327.98,349.43 332.76,344.83 337.54,348.15 342.32,357.37 347.10,360.44 351.88,360.44 356.66,362.23 361.44,362.74 366.22,364.54 371.00,364.02 375.78,364.02 380.56,361.72 385.34,363.51 390.12,364.28 394.90,366.84 399.68,368.63 404.46,367.86 409.24,368.12 414.02,368.12 418.80,368.89 423.58,368.12 428.36,368.37 433.14,368.12 437.92,368.63 442.70,368.37 447.48,368.89 452.26,369.40 457.04,369.40 461.82,369.40 466.60,369.40 471.38,369.40 476.16,369.40 480.94,369.40 485.72,369.40 490.50,369.40 495.28,369.40 500.06,369.40 504.84,369.40 509.62,369.40 514.40,369.40 519.18,369.40 523.96,369.40 528.74,369.40 533.52,369.40" fill="none" stroke="#ff7f0e" stroke-width="0.75" stroke-linejoin="round"/>
<circle cx="299.30" cy="237.78" r="0.7" fill="#ff7f0e"/>
<circle cx="304.08" cy="238.29" r="0.7" fill="#ff7f0e"/>
<circle cx="308.86" cy="269.52" r="0.7" fill="#ff7f0e"/>
<circle cx="313.64" cy="313.03" r="0.7" fill="#ff7f0e"/>
<circle cx="318.42" cy="335.87" r="0.7" fill="#ff7f0e"/>
<circle cx="323.20" cy="350.97" r="0.7" fill="#ff7f0e"/>
<circle cx="327.98" cy="349.43" r="0.7" fill="#ff7f0e"/>
<circle cx="332.76" cy="344.83" r="0.7" fill="#ff7f0e"/>
<circle cx="337.54" cy="348.15" r="0.7" fill="#ff7f0e"/>
<circle cx="342.32" cy="357.37" r="0.7" fill="#ff7f0e"/>
<circle cx="347.10" cy="360.44" r="0.7" fill="#ff7f0e"/>
<circle cx="351.88" cy="360.44" r="0.7" fill="#ff7f0e"/>
<circle cx="356.66" cy="362.23" r="0.7" fill="#ff7f0e"/>
<circle cx="361.44" cy="362.74" r="0.7" fill="#ff7f0e"/>
<circle cx="366.22" cy="364.54" r="0.7" fill="#ff7f0e"/>
<circle cx="371.00" cy="364.02" r="0.7" fill="#ff7f0e"/>
<circle cx="375.78" cy="364.02" r="0.7" fill="#ff7f0e"/>
<circle cx="380.56" cy="361.72" r="0.7" fill="#ff7f0e"/>
<circle cx="385.34" cy="363.51" r="0.7" fill="#ff7f0e"/>
<circle cx="390.12" cy="364.28" r="0.7" fill="#ff7f0e"/>
<circle cx="394.90" cy="366.84" r="0.7" fill="#ff7f0e"/>
<circle cx="399.68" cy="368.63" r="0.7" fill="#ff7f0e"/>
<circle cx="404.46" cy="367.86" r="0.7" fill="#ff7f0e"/>
<circle cx="409.24" cy="368.12" r="0.7" fill="#ff7f0e"/>
<circle cx="414.02" cy="368.12" r="0.7" fill="#ff7f0e"/>
<circle cx="418.80" cy="368.89" r="0.7" fill="#ff7f0e"/>
<circle cx="423.58" cy="368.12" r="0.7" fill="#ff7f0e"/>
<circle cx="428.36" cy="368.37" r="0.7" fill="#ff7f0e"/>
<circle cx="433.14" cy="368.12" r="0.7" fill="#ff7f0e"/>
<circle cx="437.92" cy="368.63" r="0.7" fill="#ff7f0e"/>
<circle cx="442.70" cy="368.37" r="0.7" fill="#ff7f0e"/>
<circle cx="447.48" cy="368.89" r="0.7" fill="#ff7f0e"/>
<circle cx="452.26" cy="369.40" r="0.7" fill="#ff7f0e"/>
<circle cx="457.04" cy="369.40" r="0.7" fill="#ff7f0e"/>
<circle cx="461.82" cy="369.40" r="0.7" fill="#ff7f0e"/>
<circle cx="466.60" cy="369.40" r="0.7" fill="#ff7f0e"/>
<circle cx="471.38" cy="369.40" r="0.7" fill="#ff7f0e"/>
<circle cx="476.16" cy="369.40" r="0.7" fill="#ff7f0e"/>
<circle cx="480.94" cy="369.40" r="0.7" fill="#ff7f0e"/>
<circle cx="485.72" cy="369.40" r="0.7" fill="#ff7f0e"/>
<circle cx="490.50" cy="369.40" r="0.7" fill="#ff7f0e"/>
<circle cx="495.28" cy="369.40" r="0.7" fill="#ff7f0e"/>
<circle cx="500.06" cy="369.40" r="0.7" fill="#ff7f0e"/>
<circle cx="504.84" cy="369.40" r="0.7" fill="#ff7f0e"/>
<circle cx="509.62" cy="369.40" r="0.7" fill="#ff7f0e"/>
<circle cx="514.40" cy="369.40" r="0.7" fill="#ff7f0e"/>
<circle cx="519.18" cy="369.40" r="0.7" fill="#ff7f0e"/>
<circle cx="523.96" cy="369.40" r="0.7" fill="#ff7f0e"/>
<circle cx="528.74" cy="369.40" r="0.7" fill="#ff7f0e"/>
<circle cx="533.52" cy="369.40" r="0.7" fill="#ff7f0e"/>
<rect x="510.50" y="232.10" width="32.6" height="13" rx="0.8" fill="#fff" stroke="#ddd" stroke-width="0.4"/>
<line x1="511.80" y1="235.70" x2="520.00" y2="235.70" stroke="#1f77b4" stroke-width="0.62"/>
<circle cx="515.90" cy="235.70" r="1.2" fill="#1468b0"/>
<line x1="511.80" y1="241.50" x2="520.00" y2="241.50" stroke="#ff7f0e" stroke-width="0.62"/>
<circle cx="515.90" cy="241.50" r="0.7" fill="#ff7f0e"/>
<text x="523.10" y="237.20" font-size="3.85" fill="#1a1a1a">training</text>
<text x="523.10" y="243.00" font-size="3.85" fill="#1a1a1a">validation</text>
<text x="409.80" y="426.60" class="cap" text-anchor="middle">(d)</text>
</svg>
</body></html>
